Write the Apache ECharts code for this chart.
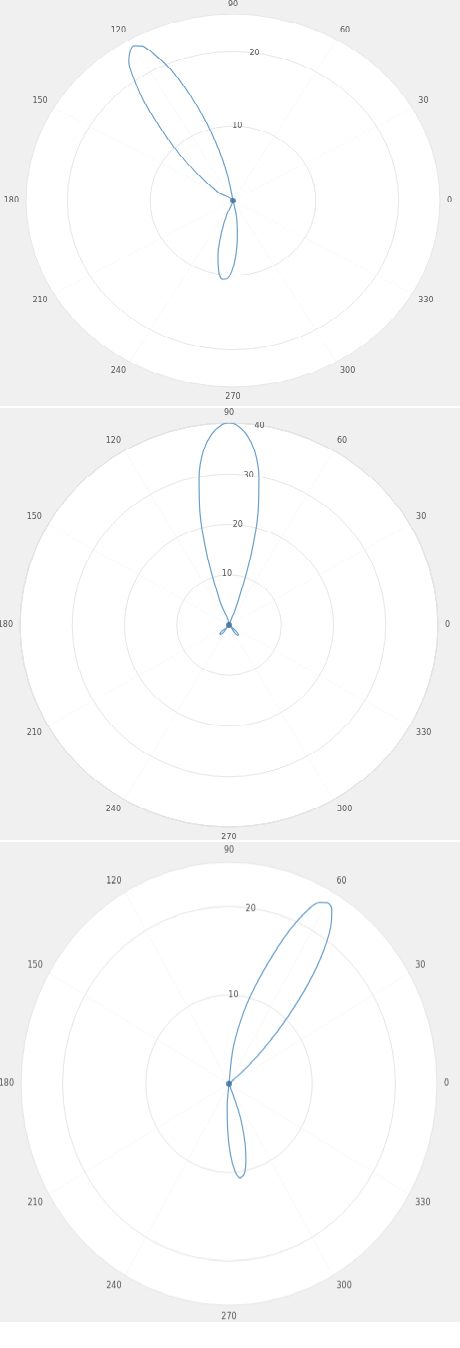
<!DOCTYPE html>
<html><head><meta charset="utf-8">
<script src="https://cdn.jsdelivr.net/npm/echarts@6/dist/echarts.min.js"></script>
<style>
html,body{margin:0;padding:0;background:#fff;width:460px;height:1348px;overflow:hidden}
.p{position:absolute;left:0;width:460px;background:#f0f0f0;transform-origin:0 0}
</style></head><body>
<div id="c1" class="p"></div><div id="c2" class="p"></div><div id="c3" class="p"></div>
<script>
// Panel 1
const ang1 = [0, 97, 101, 104, 107, 110, 113, 116, 118, 120, 122, 124, 126, 129, 132, 136, 141, 148, 156, 240, 248, 252, 256, 260, 263, 266, 269, 272, 276, 281, 288, 360];
const r1   = [0, 0, 3.5, 7, 11, 15, 19, 22, 23.5, 24, 23.5, 22.5, 20.5, 17, 13, 9, 5, 2, 0, 0, 2, 4.5, 7.5, 9.8, 10.6, 10.5, 9.5, 7.8, 5, 2.3, 0, 0];
// Panel 2
const ang2 = [0, 66, 70, 73, 76, 79, 82, 85, 88, 90, 92, 95, 98, 101, 104, 107, 110, 114, 215, 221, 225, 229, 234, 240, 300, 306, 310, 314, 319, 325, 360];
const r2   = [0, 0, 5, 14, 23, 30, 35, 38, 39.7, 40, 39.7, 38, 35, 30, 23, 14, 5, 0, 0, 1.8, 2.5, 2.4, 1.5, 0, 0, 1.6, 2.6, 2.6, 1.6, 0, 0];
// Panel 3
const ang3 = [0, 37, 41, 44, 47, 50, 53, 56, 58, 60, 62, 64, 67, 70, 74, 78, 83, 89, 260, 265, 268, 271, 274, 277, 280, 283, 286, 290, 296, 360];
const r3   = [0, 0, 3, 6.5, 10.5, 15, 19, 22, 23.3, 23.6, 23.2, 22, 19, 15.5, 11.5, 8, 4, 0, 0, 2.5, 5, 7.8, 9.8, 10.7, 10.4, 9, 7, 3.8, 0, 0];
const angleTicks = [0, 30, 60, 90, 120, 150, 180, 210, 240, 270, 300, 330];
const rMax = [25, 40, 25];
const rInterval = 10;

const panels = [
  {id:'c1', top:0, h:451, scale:0.9, cy:223, r:207, cx:233, ang:ang1, rv:r1, max:rMax[0], border:false},
  {id:'c2', top:408, h:448, scale:0.965, cy:225, r:209, cx:229, ang:ang2, rv:r2, max:rMax[1], border:true},
  {id:'c3', top:842, h:451, scale:1.065, cy:227, r:208, cx:229, ang:ang3, rv:r3, max:rMax[2], border:false}
];
panels.forEach(p => {
  const el = document.getElementById(p.id);
  el.style.top = p.top + 'px';
  el.style.height = p.h + 'px';
  el.style.transform = 'scaleY(' + p.scale + ')';
  const chart = echarts.init(el, null, {renderer:'canvas'});
  const center = [p.cx, p.cy];
  chart.setOption({
    animation:false,
    backgroundColor:'#f0f0f0',
    polar:[{center, radius:p.r},{center, radius:p.r}],
    angleAxis:[{
      polarIndex:0, type:'value', min:0, max:360, interval:30, startAngle:0, clockwise:false, z:1,
      axisLine:{show:p.border, lineStyle:{color:'#cfcfcf', width:1}},
      axisTick:{show:false},
      axisLabel:{color:'#555', fontSize:8, fontFamily:'DejaVu Sans', margin:7,
        formatter:v => angleTicks.includes(v) ? String(v) : ''},
      splitLine:{lineStyle:{color:'#dedede', width:1}},
      splitArea:{show:true, areaStyle:{color:['#ffffff','#ffffff']}}
    },{
      polarIndex:1, type:'value', min:0, max:360, startAngle:78, clockwise:false, show:false
    }],
    radiusAxis:[{
      polarIndex:0, min:0, max:p.max, interval:rInterval, z:3,
      axisLine:{show:false}, axisTick:{show:false}, axisLabel:{show:false},
      splitLine:{lineStyle:{color:'#e6e6e6', width:1}}
    },{
      polarIndex:1, min:0, max:p.max, interval:rInterval, z:4,
      axisLine:{show:false}, axisTick:{show:false}, splitLine:{show:false},
      axisLabel:{color:'#555', fontSize:8, fontFamily:'DejaVu Sans',
        formatter:v => (v === 0 || v > p.max - 1 && p.max % 10 !== 0) ? '' : String(v)}
    }],
    series:[{
      type:'line', coordinateSystem:'polar', polarIndex:0, smooth:0.3, symbol:'none', z:5,
      lineStyle:{color:'#6a9fcb', width:1.2},
      data:p.ang.map((a,i) => [p.rv[i], a])
    },{
      type:'scatter', coordinateSystem:'polar', polarIndex:0, symbolSize:6, z:6,
      itemStyle:{color:'#3a6a96'}, data:[[0,0]]
    }]
  });
});
</script></body></html>
